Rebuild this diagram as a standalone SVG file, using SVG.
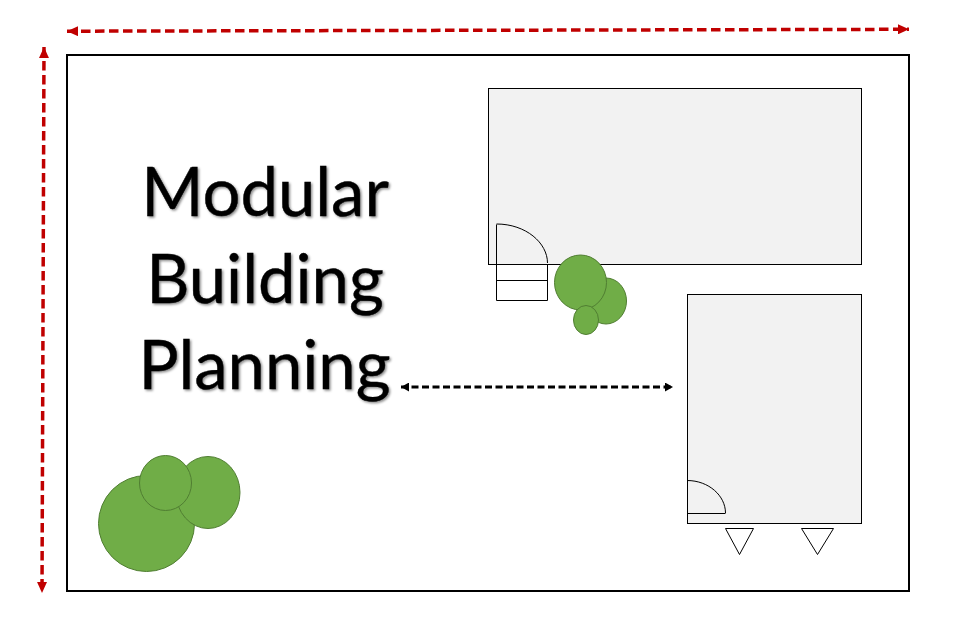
<svg xmlns="http://www.w3.org/2000/svg" width="960" height="619" viewBox="0 0 960 619">
<style>
.ln{fill:none;stroke:#000;stroke-width:1}
.bld{fill:#f2f2f2;stroke:#000;stroke-width:1}
.tree{fill:#70ad47;stroke:#507e32;stroke-width:1}
.red{fill:none;stroke:#c00000;stroke-width:3.500;stroke-dasharray:9.500 4.500}
.blk{fill:none;stroke:#000;stroke-width:3;stroke-dasharray:7 3.500}
.title{font-family:"Lato","Liberation Sans",sans-serif;font-size:67px;fill:#000;stroke:#000;stroke-width:0.400;text-anchor:middle;filter:url(#sh)}
</style>
<defs>
<filter id="sh" x="-10%" y="-10%" width="120%" height="120%"><feDropShadow dx="1.500" dy="1.500" stdDeviation="1.200" flood-color="#000" flood-opacity="0.450"/></filter>
<marker id="ar" markerUnits="userSpaceOnUse" markerWidth="12" markerHeight="10" refX="11" refY="5" orient="auto-start-reverse"><path d="M0 0L11 5L0 10Z" fill="#c00000"/></marker>
<marker id="ab" markerUnits="userSpaceOnUse" markerWidth="9" markerHeight="9" refX="8" refY="4.500" orient="auto-start-reverse"><path d="M0 0L8 4.500L0 9Z" fill="#000"/></marker>
</defs>
<rect width="960" height="619" fill="#fff"/>
<g id="site"><rect x="67" y="55" width="842" height="536" fill="#fff" stroke="#000" stroke-width="2"/></g>
<g id="building-a">
<rect class="bld" x="488.500" y="88.500" width="373" height="176"/>
</g>
<g id="door-a"><path class="ln" d="M496.500 224.500V300.500H547.500V264M496.500 280.500H547.500"/><path class="ln" d="M496.500 224C526 224 547.500 243 547.500 263"/></g>
<g id="building-b">
<rect class="bld" x="687.500" y="294.500" width="174" height="229"/>
</g>
<g id="door-b"><path class="ln" d="M687.500 513.500H725.500"/><path class="ln" d="M687 480.500C709 480.500 725.500 496 725.500 513"/></g>
<g id="triangle-1"><path class="ln" d="M725.500 528.500H753.500L739.500 554.500Z"/></g>
<g id="triangle-2"><path class="ln" d="M801.500 528.500H833.500L817.500 554.500Z"/></g>
<g id="trees-small">
<ellipse class="tree" cx="606" cy="301" rx="20.500" ry="23"/>
<ellipse class="tree" cx="580.500" cy="282.500" rx="26" ry="27.500"/>
<ellipse class="tree" cx="586" cy="320" rx="12.500" ry="14.500"/>
</g>
<g id="trees-large">
<ellipse class="tree" cx="146.500" cy="523.500" rx="48" ry="48"/>
<ellipse class="tree" cx="208" cy="492.500" rx="32" ry="36"/>
<ellipse class="tree" cx="165.500" cy="483" rx="26" ry="27.500"/>
</g>
<g id="title">
<text class="title" x="265" y="216">Modular</text>
<text class="title" x="265" y="303">Building</text>
<text class="title" x="264.500" y="389">Planning</text>
</g>
<g id="connectors">
<path class="red" d="M67 31.200L909 29.300" marker-start="url(#ar)" marker-end="url(#ar)"/>
<path class="red" d="M44 47L42 593" marker-start="url(#ar)" marker-end="url(#ar)"/>
<path class="blk" d="M401 387H673" marker-start="url(#ab)" marker-end="url(#ab)"/>
</g>
</svg>
